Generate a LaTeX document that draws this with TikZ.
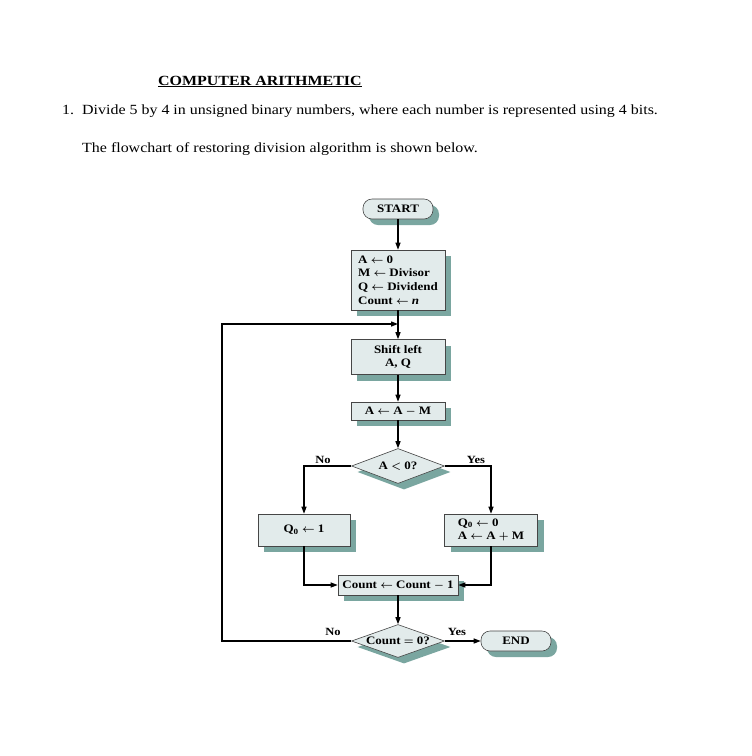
\documentclass[tikz,border=0pt]{standalone}
\usepackage{fontspec}
\setmainfont[FakeStretch=1.14]{Liberation Serif}
\usetikzlibrary{shapes.geometric,shadows,arrows.meta}
\definecolor{boxfill}{RGB}{226,235,235}
\definecolor{shadowc}{RGB}{122,166,160}
\definecolor{boxline}{RGB}{70,70,70}
\begin{document}
\begin{tikzpicture}[x=1pt,y=-1pt,
  txt/.style={anchor=base west,inner sep=0pt,font=\fontsize{14}{16}\selectfont},
  fbox/.style={draw=boxline,line width=0.6pt,fill=boxfill,inner sep=0pt,
    font=\fontsize{11.4}{13.7}\selectfont\bfseries\boldmath,
    general shadow={fill=shadowc,shadow xshift=6pt,shadow yshift=-6pt}},
  term/.style={fbox,rounded corners=9pt},
  dec/.style={fbox,diamond,aspect=2.6},
  lab/.style={inner sep=0pt,font=\fontsize{11}{13}\selectfont\bfseries},
  flow/.style={line width=1.3pt,-{Triangle[length=7pt,width=5pt]}}]
\useasboundingbox[fill=white] (0,0) rectangle (752,756);
% header text
\node[txt,font=\fontsize{14}{16}\selectfont\bfseries] (title) at (158,85) {\underline{COMPUTER ARITHMETIC}};
\node[txt] (q1) at (62,114) {1.\ \ Divide 5 by 4 in unsigned binary numbers, where each number is represented using 4 bits.};
\node[txt] (q2) at (82,152) {The flowchart of restoring division algorithm is shown below.};
% flowchart
\node[term,minimum width=70pt,minimum height=20pt] (start) at (398,209) {START};
\node[fbox,minimum width=94pt,minimum height=60pt,align=left] (init) at (398,280)
  {A $\leftarrow$ 0\\M $\leftarrow$ Divisor\\Q $\leftarrow$ Dividend\\Count $\leftarrow$ \textit{n}};
\node[fbox,minimum width=94pt,minimum height=35pt,align=center] (shift) at (398,357) {Shift left\\A, Q};
\node[fbox,minimum width=94pt,minimum height=18pt] (sub) at (398,411) {A $\leftarrow$ A $-$ M};
\node[dec,minimum width=93pt,minimum height=35pt] (test) at (398,466) {A $<$ 0?};
\node[fbox,minimum width=92pt,minimum height=32pt] (qone) at (304,530) {Q\textsubscript{0} $\leftarrow$ 1};
\node[fbox,minimum width=93pt,minimum height=32pt,align=left] (qzero) at (491,530) {Q\textsubscript{0} $\leftarrow$ 0\\A $\leftarrow$ A $+$ M};
\node[fbox,minimum width=120pt,minimum height=20pt] (dec) at (398,585) {Count $\leftarrow$ Count $-$ 1};
\node[dec,minimum width=93pt,minimum height=33pt] (cnt) at (398,641) {Count $=$ 0?};
\node[term,minimum width=70pt,minimum height=20pt] (end) at (516,641) {END};
\node[lab] (no1) at (323,460) {No};
\node[lab] (yes1) at (476,460) {Yes};
\node[lab] (no2) at (333,632) {No};
\node[lab] (yes2) at (457,632) {Yes};
\coordinate (join) at (398,324);
% connectors
\draw[flow] (start) -- (init);
\draw[flow] (init) -- (shift);
\draw[flow] (shift) -- (sub);
\draw[flow] (sub) -- (test);
\draw[flow] (test.west) -| (qone.north);
\draw[flow] (test.east) -| (qzero.north);
\draw[flow] (qone.south) |- (dec.west);
\draw[flow] (qzero.south) |- (dec.east);
\draw[flow] (dec) -- (cnt);
\draw[flow] (cnt.east) -- (end.west);
\draw[flow] (cnt.west) -- (222,641) -- (222,324) -- (join);
\end{tikzpicture}
\end{document}
